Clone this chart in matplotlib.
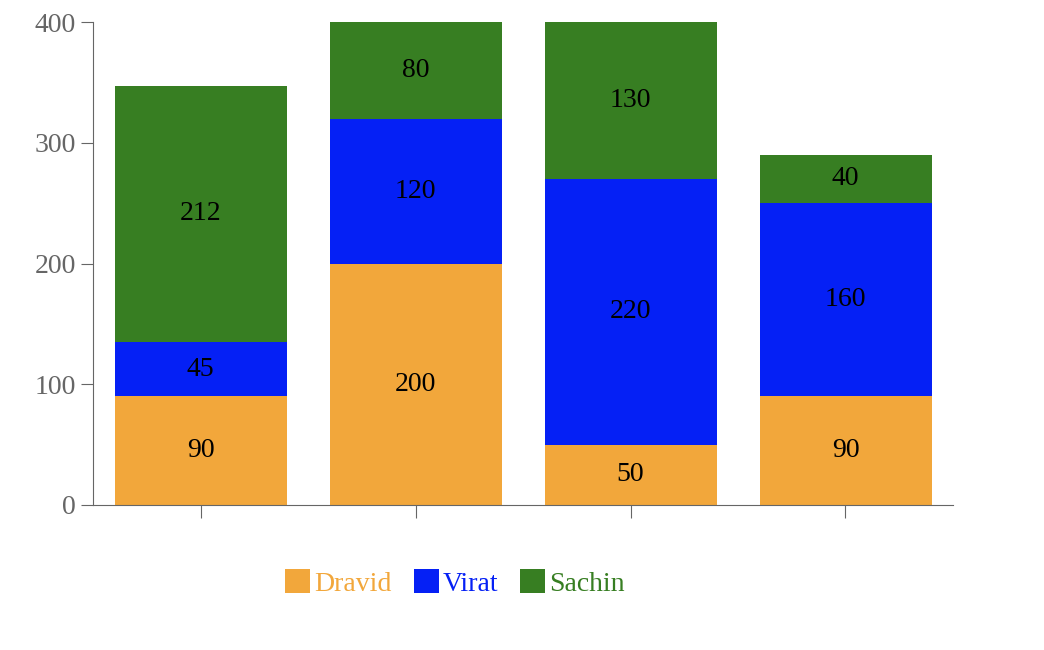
import numpy as np
import matplotlib.pyplot as plt

plt.rcParams['font.family'] = ['Liberation Serif', 'DejaVu Serif']

groups = ['A', 'B', 'C', 'D']
dravid = [90, 200, 50, 90]
virat = [45, 120, 220, 160]
sachin = [212, 80, 130, 40]
series = [('Dravid', dravid, '#F2A73B'), ('Virat', virat, '#0520F5'), ('Sachin', sachin, '#377E22')]

fig = plt.figure(figsize=(10.44, 6.5), dpi=100)
ax = fig.add_axes([93 / 1044, 1 - 505 / 650, 860 / 1044, 483 / 650])
x = np.arange(len(groups))
bottom = np.zeros(len(groups))
handles = []
for name, vals, col in series:
    vals = np.array(vals, dtype=float)
    b = ax.bar(x, vals, 0.8, bottom=bottom, color=col, label=name)
    handles.append(b)
    for xi, bt, v in zip(x, bottom, vals):
        top = min(bt + v, 400)
        ax.text(xi, (bt + top) / 2, f'{int(v)}', ha='center', va='center', fontsize=20, color='black')
    bottom += vals

ax.set_xlim(-0.5, 3.5)
ax.set_ylim(0, 400)
ax.set_yticks([0, 100, 200, 300, 400])
ax.set_xticks(x)
ax.set_xticklabels([])
for s in ['top', 'right']:
    ax.spines[s].set_visible(False)
for s in ['left', 'bottom']:
    ax.spines[s].set_color('#666666')
ax.tick_params(axis='both', colors='#666666', length=9, labelsize=20)
ax.tick_params(axis='y', labelcolor='#666666')

leg = fig.legend(handles=handles, loc='center', bbox_to_anchor=(455 / 1044, 1 - 583 / 650),
                 ncol=3, frameon=False, fontsize=20, handlelength=0.9, handleheight=0.9,
                 handletextpad=0.15, columnspacing=0.8)
for t, (_, _, col) in zip(leg.get_texts(), series):
    t.set_color(col)

fig.savefig('out.png', dpi=100)
